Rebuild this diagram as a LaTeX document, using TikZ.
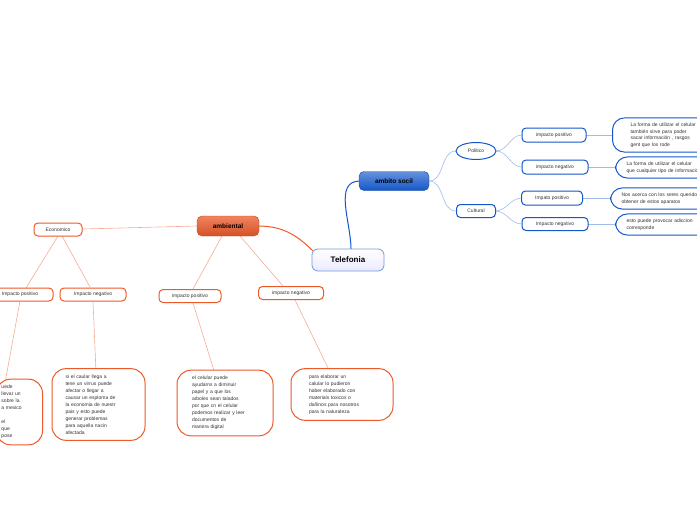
\documentclass[tikz,border=0pt]{standalone}
\usepackage{fontspec}
\setmainfont{Liberation Sans}
\usetikzlibrary{shapes.geometric}
\definecolor{orr}{HTML}{EC5A2A}
\definecolor{bld}{HTML}{1457C8}
\definecolor{txt}{HTML}{333333}
\begin{document}
\begin{tikzpicture}[x=1pt,y=-1pt,text=txt,
 bl/.style={draw=bld,line width=1pt,rounded corners=4pt,fill=white,font=\fontsize{5}{6}\selectfont,inner sep=2pt},
 or/.style={draw=orr,line width=1pt,rounded corners=4pt,fill=white,font=\fontsize{5}{6}\selectfont,inner sep=2pt},
 bt/.style={draw=bld,line width=1pt,rounded corners=12pt,fill=white,font=\fontsize{5}{6.5}\selectfont,align=left,inner sep=5pt,anchor=west},
 ot/.style={draw=orr,line width=1pt,rounded corners=14pt,fill=white,font=\fontsize{5}{7}\selectfont,align=left,inner sep=6pt},
 bc/.style={draw=bld!40,line width=0.6pt},
 oc/.style={draw=orr!50,line width=0.6pt}]
\useasboundingbox (0,0) rectangle (697,520);
\clip (0,0) rectangle (697,520);
% connectors
\coordinate (te1) at (351,249);
\coordinate (te2) at (313,251);
\draw[bld,line width=1pt] (te1) to[out=90,in=180] (360,181);
\draw[orr,line width=1pt] (te2) to[out=135,in=0] (258,226);
\draw[bc] (429,181) to[out=0,in=180] (456,151);
\draw[bc] (429,181) to[out=0,in=180] (456,211);
\draw[bc] (496,151) to[out=0,in=180] (522,135);
\draw[bc] (496,151) to[out=0,in=180] (522,167);
\draw[bc] (495,211) to[out=0,in=180] (522,198);
\draw[bc] (495,211) to[out=0,in=180] (522,224);
\draw[bc] (586,135)--(613,135);
\draw[bc] (588,167)--(616,167);
\draw[bc] (583,198)--(611,198);
\draw[bc] (588,224)--(616,224);
\draw[oc] (197,226)--(82,229);
\draw[oc] (222,236)--(193,289);
\draw[oc] (240,236)--(283,286);
\draw[oc] (58,236)--(26,288);
\draw[oc] (62,236)--(90,287);
\draw[oc] (20,301)--(5,383);
\draw[oc] (93,301)--(96,372);
\draw[oc] (193,303)--(215,374);
\draw[oc] (295,300)--(330,372);
% main nodes
\node[draw=bld!60,line width=0.8pt,rounded corners=6pt,top color=white,bottom color=blue!8,minimum width=72pt,minimum height=22pt,text=black,font=\fontsize{8}{9}\selectfont\bfseries] (tel) at (348,260) {Telefonia};
\node[draw=bld!80!black,rounded corners=5pt,top color=bld!65,bottom color=bld,minimum width=70pt,minimum height=19pt,text=black,font=\fontsize{6.5}{7}\selectfont\bfseries] (amb) at (394,181) {ambito socil};
\node[draw=orr!80!black,rounded corners=5pt,top color=orr!75,bottom color=orr!90!black,minimum width=62pt,minimum height=20pt,text=black,font=\fontsize{6.5}{7}\selectfont\bfseries] (ambi) at (228,226) {ambiental};
% blue branch
\node[draw=bld,line width=1pt,ellipse,fill=white,minimum width=40pt,minimum height=17pt,inner sep=0pt,font=\fontsize{5}{6}\selectfont] (pol) at (476,151) {Politico};
\node[bl,minimum width=39pt,minimum height=13pt] (cul) at (476,211) {Cultural};
\node[bl,minimum width=64pt,minimum height=14pt] (ip1) at (554,135) {impacto positivo};
\node[bl,minimum width=66pt,minimum height=14pt] (in1) at (555,167) {impacto negativo};
\node[bl,minimum width=61pt,minimum height=14pt] (ip2) at (552,198) {Impato positivo};
\node[bl,minimum width=66pt,minimum height=13pt] (in2) at (555,224) {Impacto negativo};
\node[bt,minimum height=34pt,text width=120pt,inner xsep=18pt] (t1) at (612,135) {La forma de utilizar el celular\\también sirve para poder\\sacar información , rasgos\\gent que los rode};
\node[bt,minimum height=21pt,text width=120pt,inner xsep=11pt] (t2) at (615,167.5) {La forma de utilizar el celular\\que cualquier tipo de informacion};
\node[bt,minimum height=21pt,text width=120pt,inner xsep=11pt] (t3) at (610,198.5) {Nos acerca con los seres queridos\\obtener de estos aparatos};
\node[bt,minimum height=21pt,text width=120pt,inner xsep=11pt] (t4) at (615,224.5) {esto puede provocar adiccion\\corresponde};
% orange branch
\node[or,minimum width=48pt,minimum height=13pt] (eco) at (58,229.5) {Economico};
\node[or,minimum width=66pt,minimum height=13pt] (ipl) at (20,294.5) {Impacto positivo};
\node[or,minimum width=66pt,minimum height=13pt] (inl) at (93,294.5) {Impacto negativo};
\node[or,minimum width=62pt,minimum height=13pt] (ipm) at (190,296) {impacto positivo};
\node[or,minimum width=65pt,minimum height=13pt] (inm) at (291,293) {impacto negativo};
\node[ot,minimum height=58pt,anchor=east,text width=36pt,inner xsep=5pt] (ol) at (43,412) {uede\\llevar un\\sobre la\\a mexico\\\mbox{}\\el\\que\\pose};
\node[ot,minimum width=93pt,minimum height=65pt,text width=66pt] (o2) at (98.5,404.5) {si el caular llega a\\tene un virrus puede\\afectar o llegar a\\causar un esploma de\\la economia de nuestr\\pais y esto puede\\generar problemas\\para aquella nacin\\afectada};
\node[ot,minimum width=96pt,minimum height=58pt,text width=66pt] (o3) at (225,403) {el celular puede\\ayudarns a diminuir\\papel y a que los\\arboles sean talados\\por que cn el celular\\podemos realizar y leer\\documentos de\\manera digital};
\node[ot,minimum width=102pt,minimum height=45pt,text width=66pt] (o4) at (342,394.5) {para elaborar un\\calular lo pudieron\\haber elaborado con\\materials toxicos o\\dañinos para nosotros\\para la naturaleza};
\end{tikzpicture}
\end{document}
